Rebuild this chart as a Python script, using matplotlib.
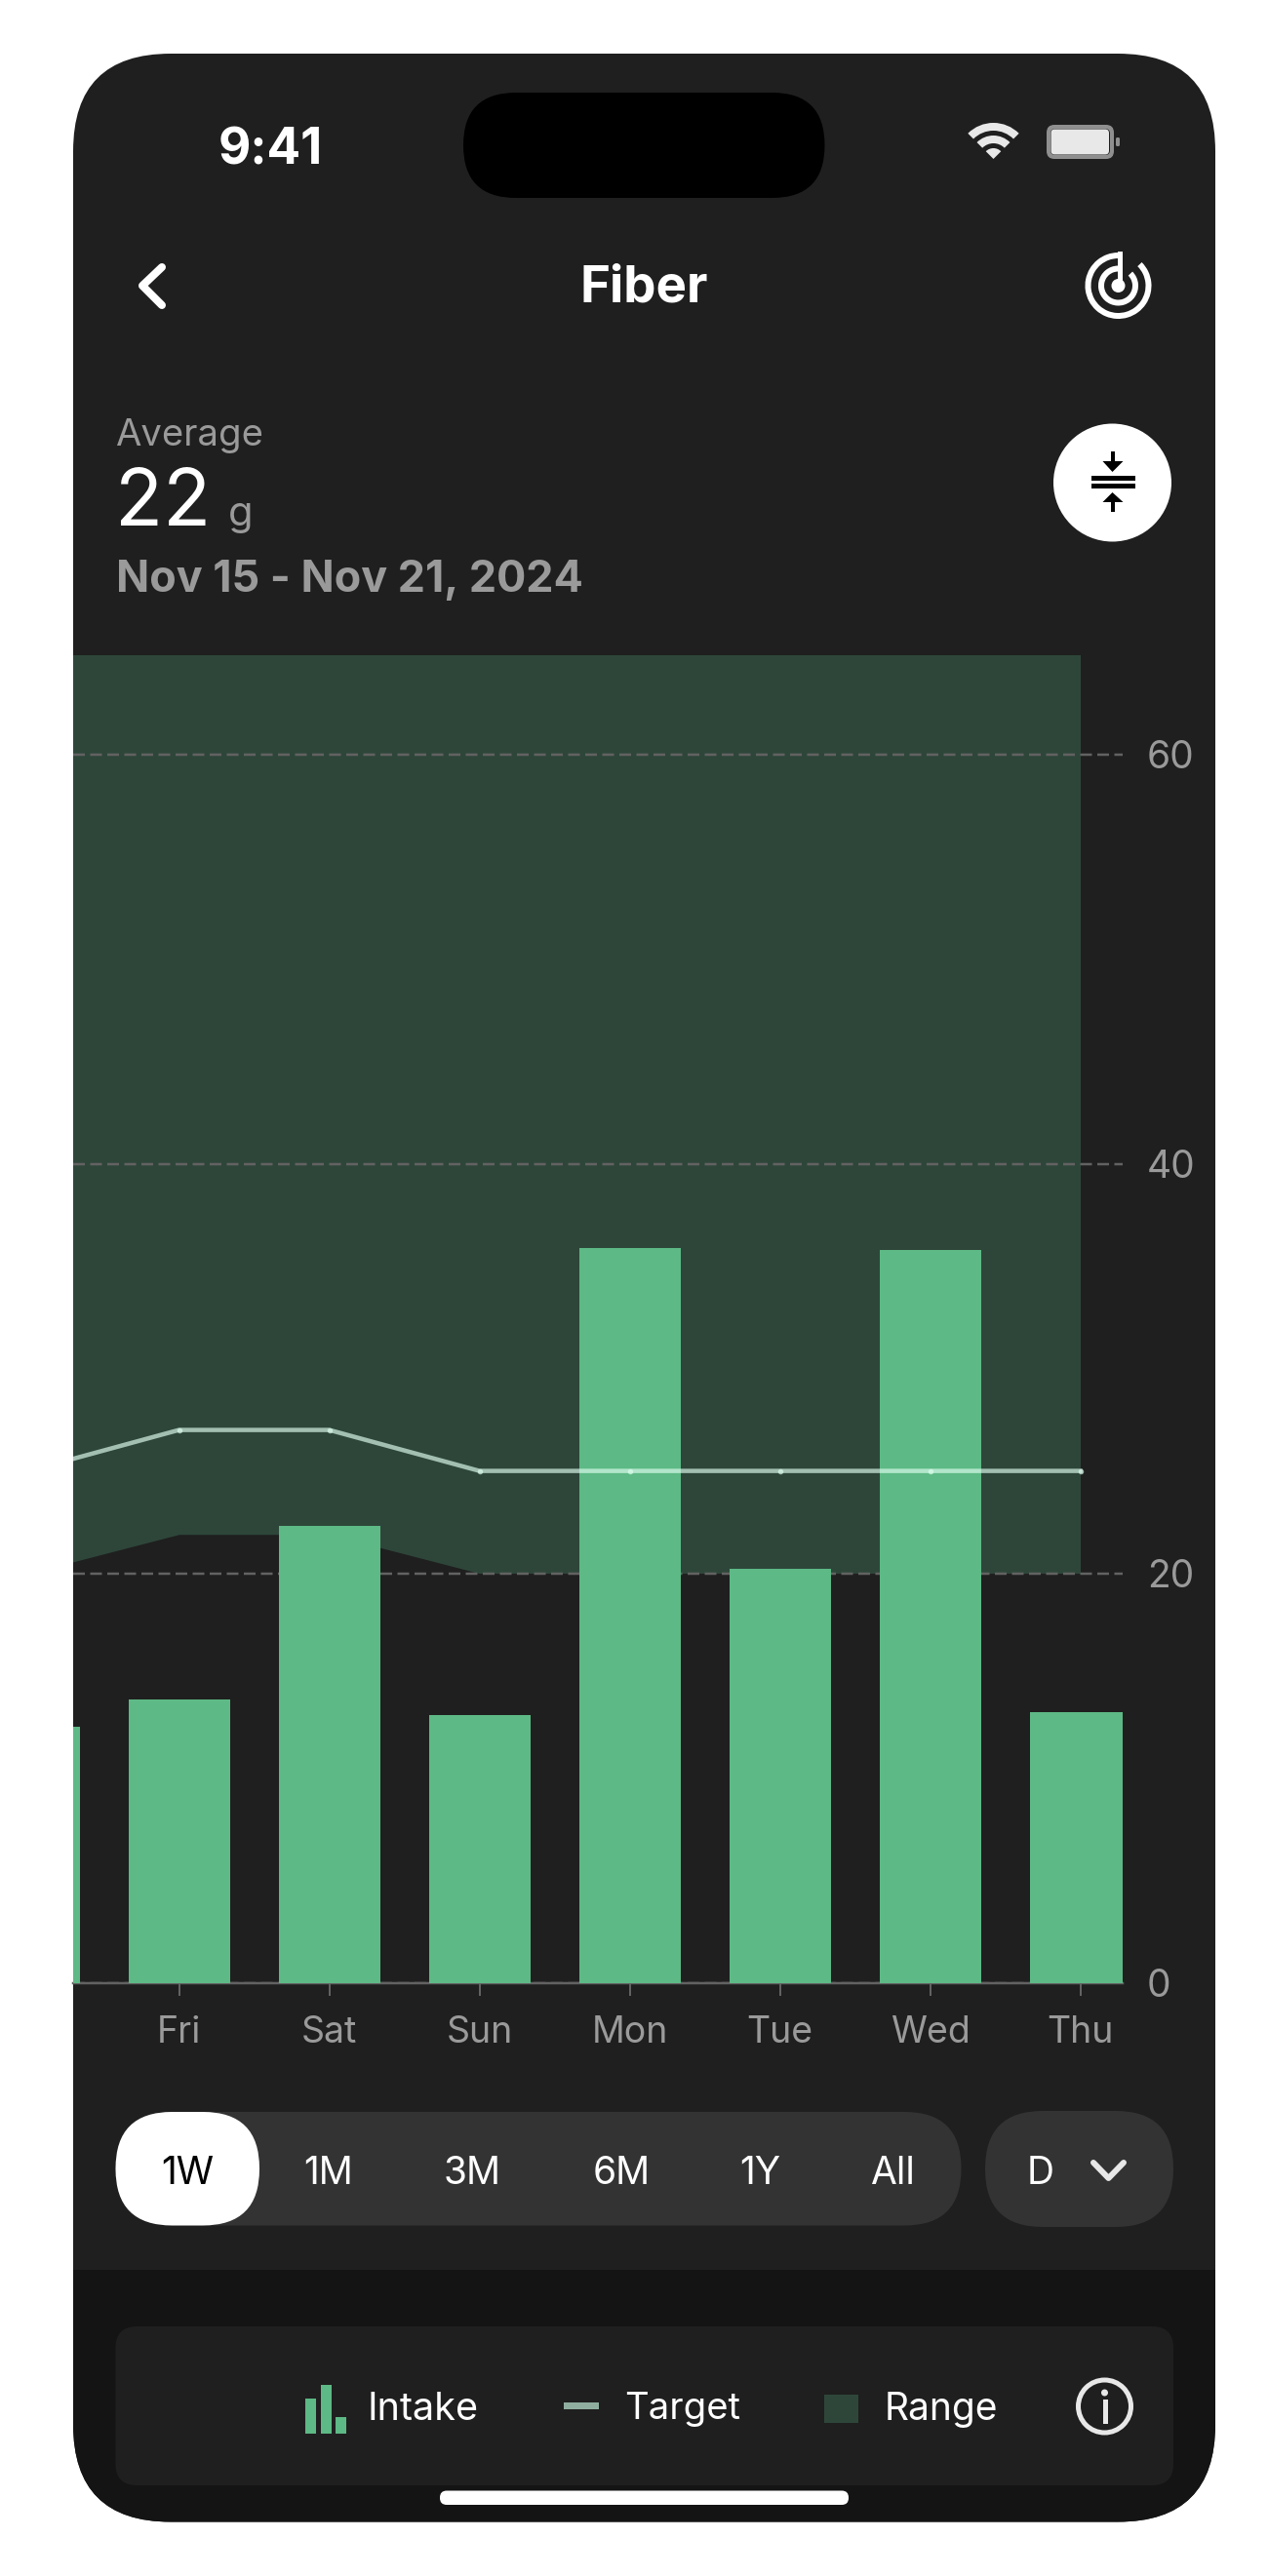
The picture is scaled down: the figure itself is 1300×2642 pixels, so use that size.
import numpy as np
import matplotlib
matplotlib.use("Agg")
import matplotlib.pyplot as plt
from matplotlib.patches import FancyBboxPatch, Rectangle, Circle, Wedge, Arc, Polygon

W, H = 1300, 2642

days = ["Thu", "Fri", "Sat", "Sun", "Mon", "Tue", "Wed", "Thu"]
intake = [12.5, 13.85, 22.3, 13.1, 35.9, 20.2, 35.8, 13.2]
target = [25, 27, 27, 25, 25, 25, 25, 25]
range_low = [20, 21.9, 21.9, 20, 20, 20, 20, 20]
range_high = [65, 65, 65, 65, 65, 65, 65, 65]
y_ticks = [0, 20, 40, 60]

periods = ["1W", "1M", "3M", "6M", "1Y", "All"]
period_x = [192, 337, 484, 637, 779, 915]

BG = "#1f1f1f"
BG_DARK = "#141414"
PILL = "#333333"
BAR = "#5db985"
BAND = "#2e463a"
LINE = "#dffff1"
MUTED = "#9a9a9a"
GRID = "#626262"
ICON = "#e8e8e8"

plt.rcParams["font.family"] = ["Inter", "DejaVu Sans"]


def rbox(ax, x0, y0, x1, y1, r, color, **kw):
    p = FancyBboxPatch((x0, y0), x1 - x0, y1 - y0, boxstyle=f"round,pad=0,rounding_size={r}",
                       fc=color, ec="none", **kw)
    ax.add_patch(p)
    return p


def px(v):
    # line widths are given in image pixels
    return v * 0.72


fig = plt.figure(figsize=(W / 100, H / 100), dpi=100, facecolor="white")

bg = fig.add_axes([0, 0, 1, 1])
bg.set_xlim(0, W)
bg.set_ylim(H, 0)
bg.axis("off")

phone = rbox(bg, 75, 55, 1246, 2586.5, 100, BG)
lower = Rectangle((75, 2328), 1172, 260, fc=BG_DARK, ec="none")
bg.add_patch(lower)
lower.set_clip_path(phone)

# status bar
rbox(bg, 475, 95, 845.5, 203, 54, "black")
bg.text(277, 155, "9:41", color="white", fontsize=37, fontweight="bold", ha="center", va="center")
for r0, w in [(37, 8), (24, 8)]:
    bg.add_patch(Wedge((1018.5, 163), r0, 225, 315, width=w, fc=ICON, ec="none"))
bg.add_patch(Wedge((1018.5, 163), 11, 225, 315, fc=ICON, ec="none"))
rbox(bg, 1073, 128, 1142, 163, 8, "#8f8f8f")
rbox(bg, 1077, 132, 1138, 159, 5, BG)
rbox(bg, 1077.5, 132.5, 1137, 158.5, 4, ICON)
rbox(bg, 1144, 141, 1148, 150, 1.5, "#8f8f8f")

# header
bg.plot([166, 146, 166], [274, 293, 313], color="white", lw=px(8), solid_capstyle="round",
        solid_joinstyle="round")
bg.text(660.5, 296, "Fiber", color="white", fontsize=38, fontweight="bold", ha="center", va="center")
for r in [31, 17.5]:
    bg.add_patch(Arc((1146.5, 293), 2 * r, 2 * r, theta1=315, theta2=270, color="white", lw=px(6)))
bg.plot([1147.5, 1147.5], [260, 293], color="white", lw=px(5))
bg.add_patch(Circle((1146.5, 293), 7, fc="white", ec="none"))

# summary
bg.text(118.5, 447, "Average", color=MUTED, fontsize=27.5, ha="left", va="center")
bg.text(118, 539, "22", color="white", fontsize=58, ha="left", va="baseline")
bg.text(234, 539, "g", color=MUTED, fontsize=30, ha="left", va="baseline")
bg.text(119, 607, "Nov 15 - Nov 21, 2024", color=MUTED, fontsize=32.3, fontweight="bold", ha="left", va="baseline")

bg.add_patch(Circle((1140.5, 495), 60.5, fc="white", ec="none"))
bg.add_patch(Rectangle((1118.5, 488), 45, 5, fc="black", ec="none"))
bg.add_patch(Rectangle((1118.5, 496), 45, 5, fc="black", ec="none"))
bg.plot([1140.5, 1140.5], [465, 476], color="black", lw=px(4))
bg.plot([1140.5, 1140.5], [513, 523], color="black", lw=px(4))
bg.add_patch(Polygon([(1130.5, 473), (1151.5, 473), (1140.5, 484)], fc="black", ec="none"))
bg.add_patch(Polygon([(1130.5, 515), (1151.5, 515), (1140.5, 505)], fc="black", ec="none"))

# chart, x position i sits at 29.5 + 154 * i in pixels
left, right, top, bottom = 75, 1151, 671.5, 2033.6
ax = fig.add_axes([left / W, 1 - bottom / H, (right - left) / W, (bottom - top) / H])
ax.patch.set_alpha(0)
x = np.arange(len(days))
ax.fill_between(x, range_low, range_high, color=BAND, lw=0, zorder=1)
ax.bar(x, intake, width=104 / 154, color=BAR, zorder=3)
ax.plot(x, target, color=LINE, lw=px(4.5), zorder=4, marker="o", ms=px(5.5), mew=0, alpha=0.66)

ax.set_yticks(y_ticks)
ax.yaxis.tick_right()
ax.grid(axis="y", color=GRID, lw=px(2.5), ls=(0, (4.8, 2.2)), zorder=2)
ax.set_axisbelow(False)
for gl in ax.get_ygridlines():
    gl.set_zorder(2)
ax.set_xticks(x)
ax.set_xticklabels(days)
ax.set_xlim((left - 29.5) / 154, (right - 29.5) / 154)
ax.set_ylim(0, (bottom - top) / 21.0)
ax.tick_params(axis="x", length=px(13), width=px(2), color=GRID, labelcolor=MUTED, labelsize=27, pad=15)
ax.tick_params(axis="y", length=0, labelcolor=MUTED, labelsize=28, pad=18)
for s in ["top", "left", "right"]:
    ax.spines[s].set_visible(False)
ax.spines["bottom"].set_color(GRID)
ax.spines["bottom"].set_linewidth(px(2.5))

# period selector
rbox(bg, 118.5, 2166, 985.5, 2282.5, 58, PILL)
rbox(bg, 118.5, 2166, 266, 2282.5, 58, "white")
for name, xp in zip(periods, period_x):
    bg.text(xp, 2225, name, color="black" if name == "1W" else "white", fontsize=28, ha="center", va="center_baseline")
rbox(bg, 1010, 2165, 1203, 2284, 59, PILL)
bg.text(1067, 2225, "D", color="white", fontsize=28, ha="center", va="center_baseline")
bg.plot([1121, 1136.5, 1152], [2218, 2234, 2218], color=ICON, lw=px(6), solid_capstyle="round")

# legend card
rbox(bg, 118.5, 2386, 1203, 2549, 22, BG)
for x0, x1, y0 in [(313, 324, 2459.5), (329, 340, 2446), (344, 355, 2479)]:
    bg.add_patch(Rectangle((x0, y0), x1 - x0, 2496 - y0, fc=BAR, ec="none"))
bg.text(377, 2467, "Intake", color="white", fontsize=28.5, ha="left", va="center_baseline")
bg.add_patch(Rectangle((578, 2464), 36, 7, fc="#8fae9f", ec="none"))
bg.text(640, 2467, "Target", color="white", fontsize=27.5, ha="left", va="center_baseline")
bg.add_patch(Rectangle((845, 2456), 35, 29, fc=BAND, ec="none"))
bg.text(907, 2467, "Range", color="white", fontsize=28, ha="left", va="center_baseline")
bg.add_patch(Circle((1132.5, 2468), 27, fc="none", ec=ICON, lw=px(5)))
bg.add_patch(Circle((1132.5, 2454), 3.5, fc=ICON, ec="none"))
bg.plot([1132.5, 1132.5], [2463, 2483], color=ICON, lw=px(5))

# home indicator
rbox(bg, 451, 2554.5, 870, 2569, 7, "white")

fig.savefig("out.png", dpi=100, facecolor="white")
